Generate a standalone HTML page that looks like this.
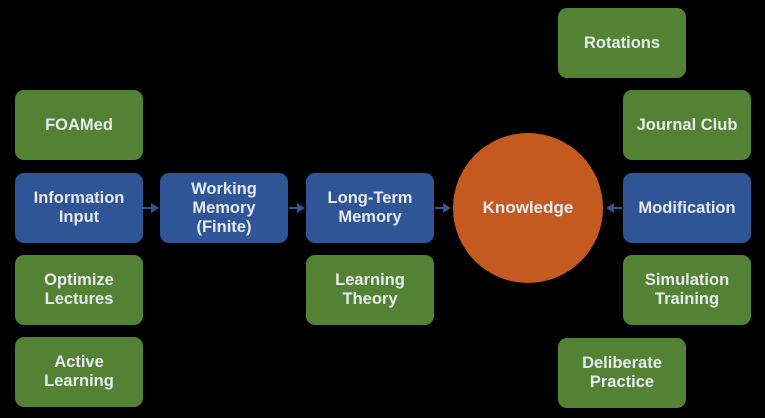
<!DOCTYPE html>
<html><head><style>
body{margin:0;width:765px;height:418px;background:#000;position:relative;overflow:hidden;font-family:"Liberation Sans",sans-serif}
.b{position:absolute;width:128px;height:70px;border-radius:9px;display:flex;align-items:center;justify-content:center;text-align:center;color:#e6e9ee;font-weight:bold;font-size:16.5px;line-height:19px}
.g{background:#548235}.u{background:#2f5597}
.c{position:absolute;left:453px;top:133px;width:150px;height:150px;border-radius:50%;background:#c55a21;display:flex;align-items:center;justify-content:center;color:#e6e9ee;font-weight:bold;font-size:17px}
</style></head><body>
<div class="b g" style="left:15px;top:90px">FOAMed</div>
<div class="b u" style="left:15px;top:173px">Information<br>Input</div>
<div class="b g" style="left:15px;top:255px">Optimize<br>Lectures</div>
<div class="b g" style="left:15px;top:337px">Active<br>Learning</div>
<div class="b u" style="left:160px;top:173px">Working<br>Memory<br>(Finite)</div>
<div class="b u" style="left:306px;top:173px">Long-Term<br>Memory</div>
<div class="b g" style="left:306px;top:255px">Learning<br>Theory</div>
<div class="c">Knowledge</div>
<div class="b g" style="left:558px;top:8px">Rotations</div>
<div class="b g" style="left:623px;top:90px">Journal Club</div>
<div class="b u" style="left:623px;top:173px">Modification</div>
<div class="b g" style="left:623px;top:255px">Simulation<br>Training</div>
<div class="b g" style="left:558px;top:338px">Deliberate<br>Practice</div>
<svg width="765" height="418" style="position:absolute;left:0;top:0">
<g fill="#2f5597" stroke="#2f5597" stroke-width="2">
<line x1="143" y1="208" x2="152" y2="208"/><polygon points="151,203 159,208 151,213" stroke="none"/>
<line x1="289" y1="208" x2="298" y2="208"/><polygon points="297,203 305,208 297,213" stroke="none"/>
<line x1="435" y1="208" x2="444" y2="208"/><polygon points="443,203 451,208 443,213" stroke="none"/>
<line x1="622" y1="208" x2="613" y2="208"/><polygon points="614,203 606,208 614,213" stroke="none"/>
</g></svg>
</body></html>
